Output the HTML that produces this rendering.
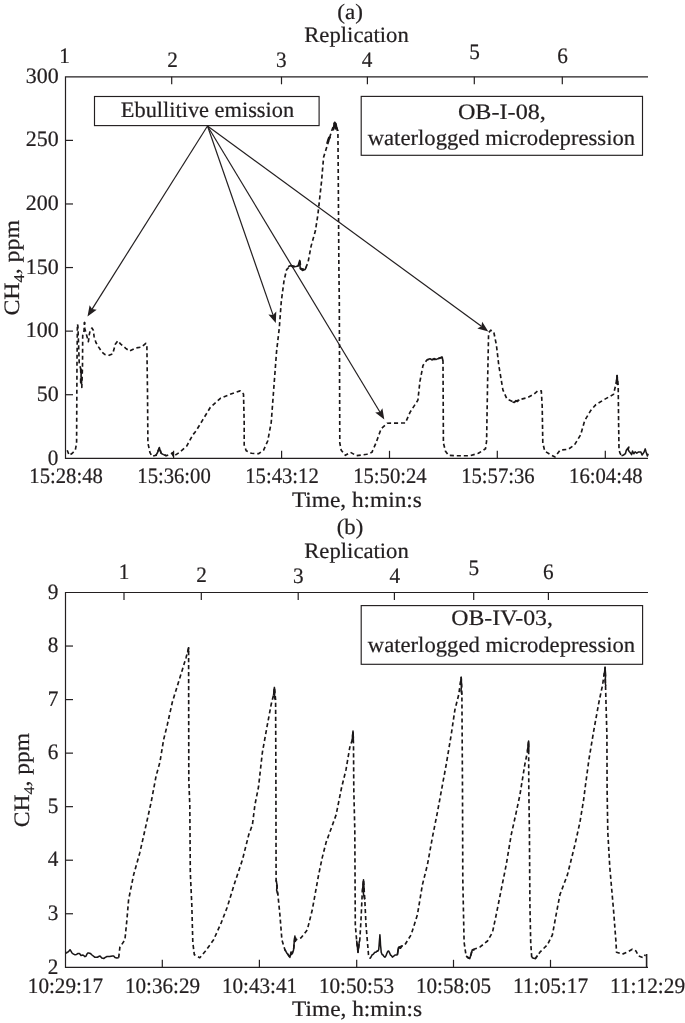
<!DOCTYPE html>
<html lang="en"><head><meta charset="utf-8"><title>CH4 replication figure</title>
<style>
html,body{margin:0;padding:0;background:#fff;}
body{width:685px;height:1023px;overflow:hidden;}
svg{display:block;}
text{font-family:"Liberation Serif",serif;font-size:22.0px;fill:#231f20;stroke:#231f20;stroke-width:0.22px;text-rendering:geometricPrecision;}
.ax{fill:none;stroke:#231f20;stroke-width:1.2;}
.ax line,.ax path,.ax rect{vector-effect:none;}
.cv{fill:none;stroke:#1a1718;stroke-width:1.65;stroke-dasharray:4.1 2.9;stroke-linejoin:round;}
.sl{fill:none;stroke:#1a1718;stroke-width:1.55;stroke-linejoin:round;}
.ah{fill:#231f20;stroke:none;}
.bx{fill:#fff;stroke:#231f20;stroke-width:1.15;}
</style></head><body>
<svg width="685" height="1023" viewBox="0 0 685 1023">
<rect x="0" y="0" width="685" height="1023" fill="#fff"/>
<g class="ax">
<path d="M648.0,76.8 L65.5,76.8 L65.5,458.3 L648.0,458.3"/>
<line x1="65.5" y1="394.72" x2="73.0" y2="394.72"/>
<line x1="65.5" y1="331.13" x2="73.0" y2="331.13"/>
<line x1="65.5" y1="267.55" x2="73.0" y2="267.55"/>
<line x1="65.5" y1="203.97" x2="73.0" y2="203.97"/>
<line x1="65.5" y1="140.38" x2="73.0" y2="140.38"/>
<line x1="171.7" y1="76.8" x2="171.7" y2="84.3"/>
<line x1="281.5" y1="76.8" x2="281.5" y2="84.3"/>
<line x1="367.4" y1="76.8" x2="367.4" y2="84.3"/>
<line x1="474.3" y1="76.8" x2="474.3" y2="84.3"/>
<line x1="562.3" y1="76.8" x2="562.3" y2="84.3"/>
<line x1="173.6" y1="458.3" x2="173.6" y2="450.8"/>
<line x1="281.6" y1="458.3" x2="281.6" y2="450.8"/>
<line x1="389.5" y1="458.3" x2="389.5" y2="450.8"/>
<line x1="497.3" y1="458.3" x2="497.3" y2="450.8"/>
<line x1="605.3" y1="458.3" x2="605.3" y2="450.8"/>
</g>
<path class="cv" d="M67.2,450.2 L69.2,455.3 L72.3,453.3 L75.3,450.2 L76.6,443.0 L77.0,361.3 L77.4,324.1 L77.9,326.0 L78.6,345.0 L79.2,362.8 L81.2,371.0 L81.0,380.4 L81.8,387.4 L82.5,366.3 L82.7,335.5 L84.0,331.1 L84.5,322.8 L84.9,328.9 L86.7,335.5 L88.4,341.7 L89.3,334.6 L90.2,330.2 L91.9,328.0 L93.3,330.2 L94.1,336.4 L95.9,342.5 L98.5,346.9 L102.1,352.2 L104.7,354.4 L109.1,355.3 L112.6,354.0 L113.9,349.6 L115.3,344.3 L117.9,340.8 L120.5,343.9 L125.8,348.3 L129.5,351.1 L135.6,348.0 L141.7,347.0 L145.8,343.3 L146.9,347.0 L147.5,392.0 L147.9,443.0 L149.9,452.3 L152.0,456.3 L156.1,455.3 L159.5,447.6 L161.2,453.3 L166.3,455.7 L172.4,453.3 L173.4,456.3 L179.6,452.3 L186.7,446.1 L192.8,434.9 L196.1,430.8 L202.3,420.6 L210.4,407.3 L220.7,398.1 L230.9,394.0 L240.1,390.9 L243.5,394.0 L244.2,422.6 L244.2,445.1 L246.2,450.8 L251.3,453.3 L258.5,453.7 L263.6,450.2 L267.7,441.0 L271.2,422.6 L273.5,392.0 L276.6,351.1 L279.3,327.9 L281.3,301.3 L284.0,280.9 L286.6,269.6 L290.7,265.5 L295.8,266.6 L298.9,265.5 L299.9,260.4 L300.9,268.6 L305.0,269.6 L308.0,262.5 L311.1,246.1 L315.4,230.8 L317.9,214.5 L319.5,200.1 L321.5,181.8 L323.6,157.2 L328.7,140.9 L331.7,130.7 L334.8,122.5 L337.9,130.7 L338.3,181.8 L338.9,269.6 L339.3,300.0 L339.8,443.0 L341.2,450.2 L345.3,455.3 L350.4,452.3 L356.6,455.7 L366.8,454.3 L371.9,452.3 L376.0,443.0 L381.1,428.8 L387.2,423.2 L405.3,423.0 L410.0,412.4 L417.9,400.1 L419.9,381.7 L423.0,365.4 L427.1,359.7 L436.3,359.3 L442.4,357.2 L443.0,361.3 L443.4,443.0 L445.5,451.2 L448.5,455.3 L456.7,455.7 L470.2,455.7 L478.4,453.3 L485.5,448.8 L486.6,441.0 L487.6,381.7 L488.6,332.7 L490.7,330.2 L493.7,331.7 L496.4,345.0 L498.8,365.4 L502.9,389.9 L507.0,399.1 L514.2,402.2 L519.3,399.7 L527.4,397.7 L533.6,394.4 L537.7,390.9 L541.3,390.9 L542.2,406.3 L542.8,443.0 L544.8,451.2 L549.9,454.3 L555.0,457.0 L560.1,450.2 L568.3,449.2 L574.4,445.1 L580.6,434.9 L584.7,420.6 L590.8,410.4 L595.9,404.6 L604.3,399.5 L613.5,394.4 L616.5,381.7 L617.1,375.6 L618.2,385.8 L618.6,422.6 L619.0,449.2 L619.8,452.6 L621.5,455.9"/>
<path class="sl" d="M621.5,455.9 L623.5,455.0 L625.4,453.7 L626.3,450.2 L627.6,448.6 L628.9,447.1 L628.1,449.7 L629.2,451.5 L630.3,452.8 L631.6,454.6 L632.5,451.1 L633.8,453.7 L635.1,451.9 L636.8,453.2 L638.6,451.9 L640.8,451.9 L642.1,455.0 L643.9,452.4 L645.2,448.9 L646.1,451.9 L647.4,455.9 L648.2,453.7"/>
<path class="sl" d="M333.3,130.5 L334.1,123.2 L334.8,122.3 L335.3,129.0 L336.0,123.6 L336.6,127.0 L337.4,131.0"/>
<path class="sl" d="M326.8,143.8 L328.0,139.5 L328.9,137.2 L328.3,141.2 L330.4,137.0"/>
<path class="sl" d="M288.2,266.8 L290.7,265.5 L293.0,267.0 L295.8,266.6 L298.0,266.0 L299.7,260.4 L300.2,268.6 L302.5,270.4 L305.0,269.6 L306.3,267.2"/>
<path class="sl" d="M155.5,455.8 L157.6,452.5 L159.4,447.6 L160.2,451.0 L161.2,453.3 L163.5,454.6 L166.3,455.7"/>
<path class="sl" d="M171.6,453.6 L172.6,452.6 L173.4,456.6"/>
<path class="sl" d="M427.1,359.7 L430.0,358.8 L432.0,359.9 L434.0,358.6 L436.3,359.4 L439.0,358.3 L442.2,357.0 L442.8,360.5"/>
<path class="sl" d="M512.5,402.0 L514.2,402.4 L516.0,400.6 L517.5,401.5 L519.3,399.7"/>
<path class="sl" d="M616.3,383.5 L617.0,375.6 L617.6,381.0 L617.3,385.0"/>
<path class="sl" d="M84.0,323.6 L84.6,322.4 L85.0,323.8"/>
<path class="sl" d="M80.6,369.5 L81.6,369.5 L81.7,372.5 L80.7,372.5 L80.6,369.5"/>
<path class="sl" d="M80.6,378.5 L81.5,377.5 L81.6,382.5 L80.6,382.5 L80.6,378.5"/>
<rect class="bx" x="94.5" y="96.5" width="224.6" height="29.1"/>
<rect class="bx" x="361.2" y="96.4" width="281.3" height="58.9"/>
<g class="ax">
<line x1="207.5" y1="126.0" x2="92.1" y2="309.1"/><polygon class="ah" points="87.5,316.4 89.6,305.2 92.1,309.1 96.7,309.7"/>
<line x1="207.5" y1="126.0" x2="273.0" y2="314.9"/><polygon class="ah" points="275.8,323.0 268.4,314.4 273.0,314.9 276.3,311.6"/>
<line x1="207.5" y1="126.0" x2="379.9" y2="412.0"/><polygon class="ah" points="384.3,419.4 375.2,412.5 379.9,412.0 382.4,408.2"/>
<line x1="207.5" y1="126.0" x2="481.4" y2="326.3"/><polygon class="ah" points="488.3,331.4 477.3,328.5 481.4,326.3 482.2,321.8"/>
</g>
<g class="ax">
<path d="M648.0,592.5 L65.5,592.5 L65.5,967.3 L648.0,967.3"/>
<line x1="65.5" y1="913.76" x2="73.0" y2="913.76"/>
<line x1="65.5" y1="860.21" x2="73.0" y2="860.21"/>
<line x1="65.5" y1="806.67" x2="73.0" y2="806.67"/>
<line x1="65.5" y1="753.13" x2="73.0" y2="753.13"/>
<line x1="65.5" y1="699.59" x2="73.0" y2="699.59"/>
<line x1="65.5" y1="646.04" x2="73.0" y2="646.04"/>
<line x1="124.0" y1="592.5" x2="124.0" y2="600.0"/>
<line x1="201.3" y1="592.5" x2="201.3" y2="600.0"/>
<line x1="298.2" y1="592.5" x2="298.2" y2="600.0"/>
<line x1="394.4" y1="592.5" x2="394.4" y2="600.0"/>
<line x1="473.7" y1="592.5" x2="473.7" y2="600.0"/>
<line x1="548.4" y1="592.5" x2="548.4" y2="600.0"/>
<line x1="162.3" y1="967.3" x2="162.3" y2="959.8"/>
<line x1="259.4" y1="967.3" x2="259.4" y2="959.8"/>
<line x1="356.7" y1="967.3" x2="356.7" y2="959.8"/>
<line x1="453.5" y1="967.3" x2="453.5" y2="959.8"/>
<line x1="550.5" y1="967.3" x2="550.5" y2="959.8"/>
<path d="M646.6,967.3 L646.6,954" stroke-width="1.6"/>
</g>
<path class="sl" d="M66.2,953.5 L67.1,952.2 L68.0,952.0 L69.0,950.9 L70.0,949.7 L71.0,951.1 L72.0,953.0 L73.5,954.1 L75.0,954.7 L76.5,954.4 L78.0,953.5 L79.5,953.5 L81.0,955.5 L83.0,955.0 L85.0,956.7 L86.0,956.1 L87.0,954.0 L87.8,953.0 L88.7,953.0 L90.3,953.4 L92.0,955.0 L94.7,957.2 L97.4,957.2 L98.7,956.5 L100.0,956.0 L101.8,958.0 L103.7,958.5 L105.3,957.4 L107.0,956.5 L109.7,956.6 L112.4,956.0 L113.7,956.0 L115.0,957.5 L116.8,957.9 L118.7,957.7"/>
<path class="sl" d="M187.7,652.5 L188.6,647.9 L188.4,652.0"/>
<path class="sl" d="M273.5,695.5 L274.4,687.4 L274.8,693.0 L274.2,697.0 L275.5,699.8"/>
<path class="sl" d="M352.2,740.5 L353.0,731.0 L353.4,738.0 L352.8,742.0"/>
<path class="sl" d="M460.4,684.5 L461.2,677.4 L461.6,686.0 L461.0,690.5 L461.9,694.8"/>
<path class="sl" d="M527.5,751.0 L528.6,741.0 L528.8,749.5 L528.2,752.5"/>
<path class="sl" d="M604.1,676.0 L605.1,667.4 L605.6,676.0 L605.0,681.0 L605.8,686.0"/>
<path class="sl" d="M284.9,949.7 L287.0,953.4 L289.9,957.4 L291.0,952.0 L292.4,953.6 L293.6,949.7 L294.2,942.0 L294.9,936.0 L295.3,941.4 L296.1,939.8"/>
<path class="sl" d="M276.1,879.8 L277.2,886.0 L276.6,890.0 L277.9,894.8"/>
<path class="sl" d="M362.4,891.5 L363.5,879.8 L364.0,888.0 L363.4,893.5 L364.7,899.5"/>
<path class="sl" d="M356.6,940.5 L357.4,947.0 L358.0,952.4 L358.7,946.0 L359.4,941.0"/>
<path class="sl" d="M466.1,956.0 L468.0,958.0 L469.8,958.6 L471.2,954.0 L472.3,949.7 L474.5,950.3"/>
<path class="sl" d="M531.7,957.2 L533.5,958.2 L535.4,958.6 L537.5,955.5"/>
<path class="sl" d="M397.4,954.7 L398.7,947.2 L400.5,948.2 L402.5,945.4"/>
<path class="cv" d="M118.7,957.7 L119.9,947.2 L124.9,939.8 L126.9,919.8 L128.6,899.8 L133.6,874.9 L139.9,852.4 L146.1,824.9 L151.1,802.5 L156.1,776.0 L159.9,762.2 L163.6,739.8 L167.3,724.8 L172.3,702.3 L176.1,689.9 L182.3,669.9 L186.1,657.4 L188.6,647.9 L188.8,780.0 L189.8,805.0 L190.3,872.4 L191.8,904.8 L192.8,942.3 L194.3,954.7 L199.8,957.7 L205.5,951.0 L213.6,939.8 L221.4,922.3 L227.2,907.3 L234.9,882.3 L242.4,859.9 L248.7,834.9 L252.4,824.9 L254.9,805.0 L258.5,787.0 L262.4,752.3 L266.9,727.3 L271.1,704.8 L273.6,694.8 L274.4,687.4 L275.6,699.8 L275.9,780.0 L276.1,879.8 L277.9,894.8 L279.9,914.8 L281.9,939.8 L284.9,949.7 L289.9,957.2 L293.6,949.7 L294.9,936.0 L296.1,939.8 L301.1,937.8 L307.3,929.8 L312.3,909.8 L318.6,874.9 L322.3,857.4 L326.1,842.4 L336.1,814.9 L341.5,788.0 L346.0,769.7 L349.8,747.3 L352.3,739.8 L353.0,731.0 L353.5,744.8 L353.8,789.7 L354.8,829.9 L355.3,924.8 L356.8,942.3 L358.0,952.2 L359.8,939.8 L361.0,919.8 L362.3,892.3 L363.5,879.8 L364.8,899.8 L366.0,924.8 L368.5,954.7 L370.0,958.5"/>
<path class="sl" d="M370.0,958.5 L371.0,957.0 L372.0,955.0 L373.4,954.1 L374.9,952.2 L375.9,952.2 L377.0,951.0 L377.9,951.2 L378.7,949.7 L379.1,945.3 L379.5,940.0 L379.7,938.2 L379.9,934.8 L380.2,939.0 L380.5,945.0 L380.9,948.5 L381.2,952.2 L382.1,954.5 L383.0,955.0 L383.9,956.4 L384.9,957.2 L385.9,955.9 L387.0,953.0 L387.9,951.2 L388.7,951.0 L389.6,952.9 L390.5,955.0 L391.4,955.6 L392.4,957.2 L393.7,956.2 L395.0,955.0 L396.2,955.0 L397.4,954.7 L398.0,950.0 L398.7,947.2"/>
<path class="cv" d="M398.7,947.2 L404.9,944.8 L411.1,934.8 L417.4,914.8 L422.4,884.8 L427.4,864.9 L432.4,837.4 L437.4,812.4 L441.5,790.0 L446.2,764.7 L451.2,734.8 L454.9,709.8 L458.7,694.8 L461.2,677.4 L461.9,694.8 L462.5,789.7 L462.8,879.8 L464.1,942.3 L466.1,956.0 L469.8,958.5 L472.3,949.7 L479.8,947.2 L487.5,941.0 L492.5,932.3 L496.2,914.8 L501.2,889.8 L506.2,864.9 L511.2,834.9 L516.2,812.4 L519.9,795.0 L522.0,782.0 L524.8,764.7 L527.3,752.3 L528.6,741.0 L528.8,789.7 L529.4,829.9 L529.9,904.8 L530.7,942.3 L531.7,957.2 L535.4,958.5 L539.9,952.2 L547.4,944.8 L552.4,934.8 L556.1,914.8 L559.9,894.8 L567.4,874.9 L574.9,844.9 L579.9,822.4 L583.6,800.0 L585.5,785.0 L588.9,759.7 L593.9,729.8 L598.9,702.3 L602.6,684.9 L605.1,667.4 L605.9,699.8 L606.9,734.8 L607.1,789.7 L607.8,832.4 L609.8,867.4 L613.5,909.8 L616.0,942.3 L616.5,952.2 L622.3,954.2 L627.3,952.2 L632.3,949.2 L636.0,951.0 L638.5,956.0 L643.5,957.7 L645.3,954.7"/>
<rect class="bx" x="361.2" y="605.6" width="281.4" height="58.7"/>
<text id="ta" x="337.33" y="18.80" textLength="25.66" lengthAdjust="spacingAndGlyphs">(a)</text>
<text id="repa" x="304.24" y="42.20" textLength="104.58" lengthAdjust="spacingAndGlyphs">Replication</text>
<text id="a1" x="59.37" y="62.80" textLength="10.60" lengthAdjust="spacingAndGlyphs">1</text>
<text id="a2" x="167.27" y="66.60" textLength="10.60" lengthAdjust="spacingAndGlyphs">2</text>
<text id="a3" x="276.11" y="67.00" textLength="10.60" lengthAdjust="spacingAndGlyphs">3</text>
<text id="a4" x="361.74" y="66.80" textLength="10.60" lengthAdjust="spacingAndGlyphs">4</text>
<text id="a5" x="469.27" y="59.40" textLength="10.60" lengthAdjust="spacingAndGlyphs">5</text>
<text id="a6" x="557.25" y="62.90" textLength="10.60" lengthAdjust="spacingAndGlyphs">6</text>
<text id="ay300" x="25.74" y="82.90" textLength="32.91" lengthAdjust="spacingAndGlyphs">300</text>
<text id="ay250" x="25.74" y="146.40" textLength="32.91" lengthAdjust="spacingAndGlyphs">250</text>
<text id="ay200" x="25.74" y="209.90" textLength="32.91" lengthAdjust="spacingAndGlyphs">200</text>
<text id="ay150" x="25.74" y="273.50" textLength="32.91" lengthAdjust="spacingAndGlyphs">150</text>
<text id="ay100" x="25.74" y="337.00" textLength="32.91" lengthAdjust="spacingAndGlyphs">100</text>
<text id="ay50" x="36.71" y="400.70" textLength="21.94" lengthAdjust="spacingAndGlyphs">50</text>
<text id="ay0" x="47.68" y="464.50" textLength="10.60" lengthAdjust="spacingAndGlyphs">0</text>
<text id="ax0" x="29.36" y="483.30" textLength="73.48" lengthAdjust="spacingAndGlyphs">15:28:48</text>
<text id="ax1" x="137.31" y="483.30" textLength="73.48" lengthAdjust="spacingAndGlyphs">15:36:00</text>
<text id="ax2" x="245.26" y="483.30" textLength="73.48" lengthAdjust="spacingAndGlyphs">15:43:12</text>
<text id="ax3" x="353.21" y="483.30" textLength="73.48" lengthAdjust="spacingAndGlyphs">15:50:24</text>
<text id="ax4" x="461.16" y="483.30" textLength="73.48" lengthAdjust="spacingAndGlyphs">15:57:36</text>
<text id="ax5" x="569.11" y="483.30" textLength="73.48" lengthAdjust="spacingAndGlyphs">16:04:48</text>
<text id="timea" x="291.91" y="506.60" textLength="129.95" lengthAdjust="spacingAndGlyphs">Time, h:min:s</text>
<text id="eb" x="120.85" y="117.30" textLength="173.27" lengthAdjust="spacingAndGlyphs">Ebullitive emission</text>
<text id="oba" x="457.92" y="118.80" textLength="87.95" lengthAdjust="spacingAndGlyphs">OB-I-08,</text>
<text id="wla" x="367.70" y="144.70" textLength="267.40" lengthAdjust="spacingAndGlyphs">waterlogged microdepression</text>
<text id="tb" x="336.78" y="534.20" textLength="26.45" lengthAdjust="spacingAndGlyphs">(b)</text>
<text id="repb" x="304.24" y="557.70" textLength="104.58" lengthAdjust="spacingAndGlyphs">Replication</text>
<text id="b1" x="118.85" y="578.60" textLength="10.60" lengthAdjust="spacingAndGlyphs">1</text>
<text id="b2" x="196.34" y="582.40" textLength="10.60" lengthAdjust="spacingAndGlyphs">2</text>
<text id="b3" x="293.05" y="582.50" textLength="10.60" lengthAdjust="spacingAndGlyphs">3</text>
<text id="b4" x="389.42" y="582.50" textLength="10.60" lengthAdjust="spacingAndGlyphs">4</text>
<text id="b5" x="468.62" y="574.90" textLength="10.60" lengthAdjust="spacingAndGlyphs">5</text>
<text id="b6" x="542.95" y="578.60" textLength="10.60" lengthAdjust="spacingAndGlyphs">6</text>
<text id="by9" x="47.68" y="598.80" textLength="10.60" lengthAdjust="spacingAndGlyphs">9</text>
<text id="by8" x="47.68" y="652.33" textLength="10.60" lengthAdjust="spacingAndGlyphs">8</text>
<text id="by7" x="47.68" y="705.86" textLength="10.60" lengthAdjust="spacingAndGlyphs">7</text>
<text id="by6" x="47.68" y="759.39" textLength="10.60" lengthAdjust="spacingAndGlyphs">6</text>
<text id="by5" x="47.68" y="812.91" textLength="10.60" lengthAdjust="spacingAndGlyphs">5</text>
<text id="by4" x="47.68" y="866.44" textLength="10.60" lengthAdjust="spacingAndGlyphs">4</text>
<text id="by3" x="47.68" y="919.97" textLength="10.60" lengthAdjust="spacingAndGlyphs">3</text>
<text id="by2" x="47.68" y="973.50" textLength="10.60" lengthAdjust="spacingAndGlyphs">2</text>
<text id="bx0" x="27.86" y="992.50" textLength="75.14" lengthAdjust="spacingAndGlyphs">10:29:17</text>
<text id="bx1" x="124.89" y="992.50" textLength="75.14" lengthAdjust="spacingAndGlyphs">10:36:29</text>
<text id="bx2" x="221.92" y="992.50" textLength="75.14" lengthAdjust="spacingAndGlyphs">10:43:41</text>
<text id="bx3" x="318.95" y="992.50" textLength="75.14" lengthAdjust="spacingAndGlyphs">10:50:53</text>
<text id="bx4" x="415.98" y="992.50" textLength="75.14" lengthAdjust="spacingAndGlyphs">10:58:05</text>
<text id="bx5" x="513.01" y="992.50" textLength="75.14" lengthAdjust="spacingAndGlyphs">11:05:17</text>
<text id="bx6" x="610.04" y="992.50" textLength="75.14" lengthAdjust="spacingAndGlyphs">11:12:29</text>
<text id="timeb" x="292.12" y="1015.60" textLength="129.97" lengthAdjust="spacingAndGlyphs">Time, h:min:s</text>
<text id="obb" x="451.27" y="624.90" textLength="101.64" lengthAdjust="spacingAndGlyphs">OB-IV-03,</text>
<text id="wlb" x="367.82" y="651.90" textLength="267.34" lengthAdjust="spacingAndGlyphs">waterlogged microdepression</text>
<text id="ylaba" x="19.00" y="315.60" textLength="95.60" lengthAdjust="spacingAndGlyphs" transform="rotate(-90 19.00 315.60)">CH<tspan font-size="15" dy="4.8">4</tspan><tspan dy="-4.8">, ppm</tspan></text>
<text id="ylabb" x="29.30" y="827.20" textLength="94.40" lengthAdjust="spacingAndGlyphs" transform="rotate(-90 29.30 827.20)">CH<tspan font-size="15" dy="4.8">4</tspan><tspan dy="-4.8">, ppm</tspan></text>
</svg></body></html>
